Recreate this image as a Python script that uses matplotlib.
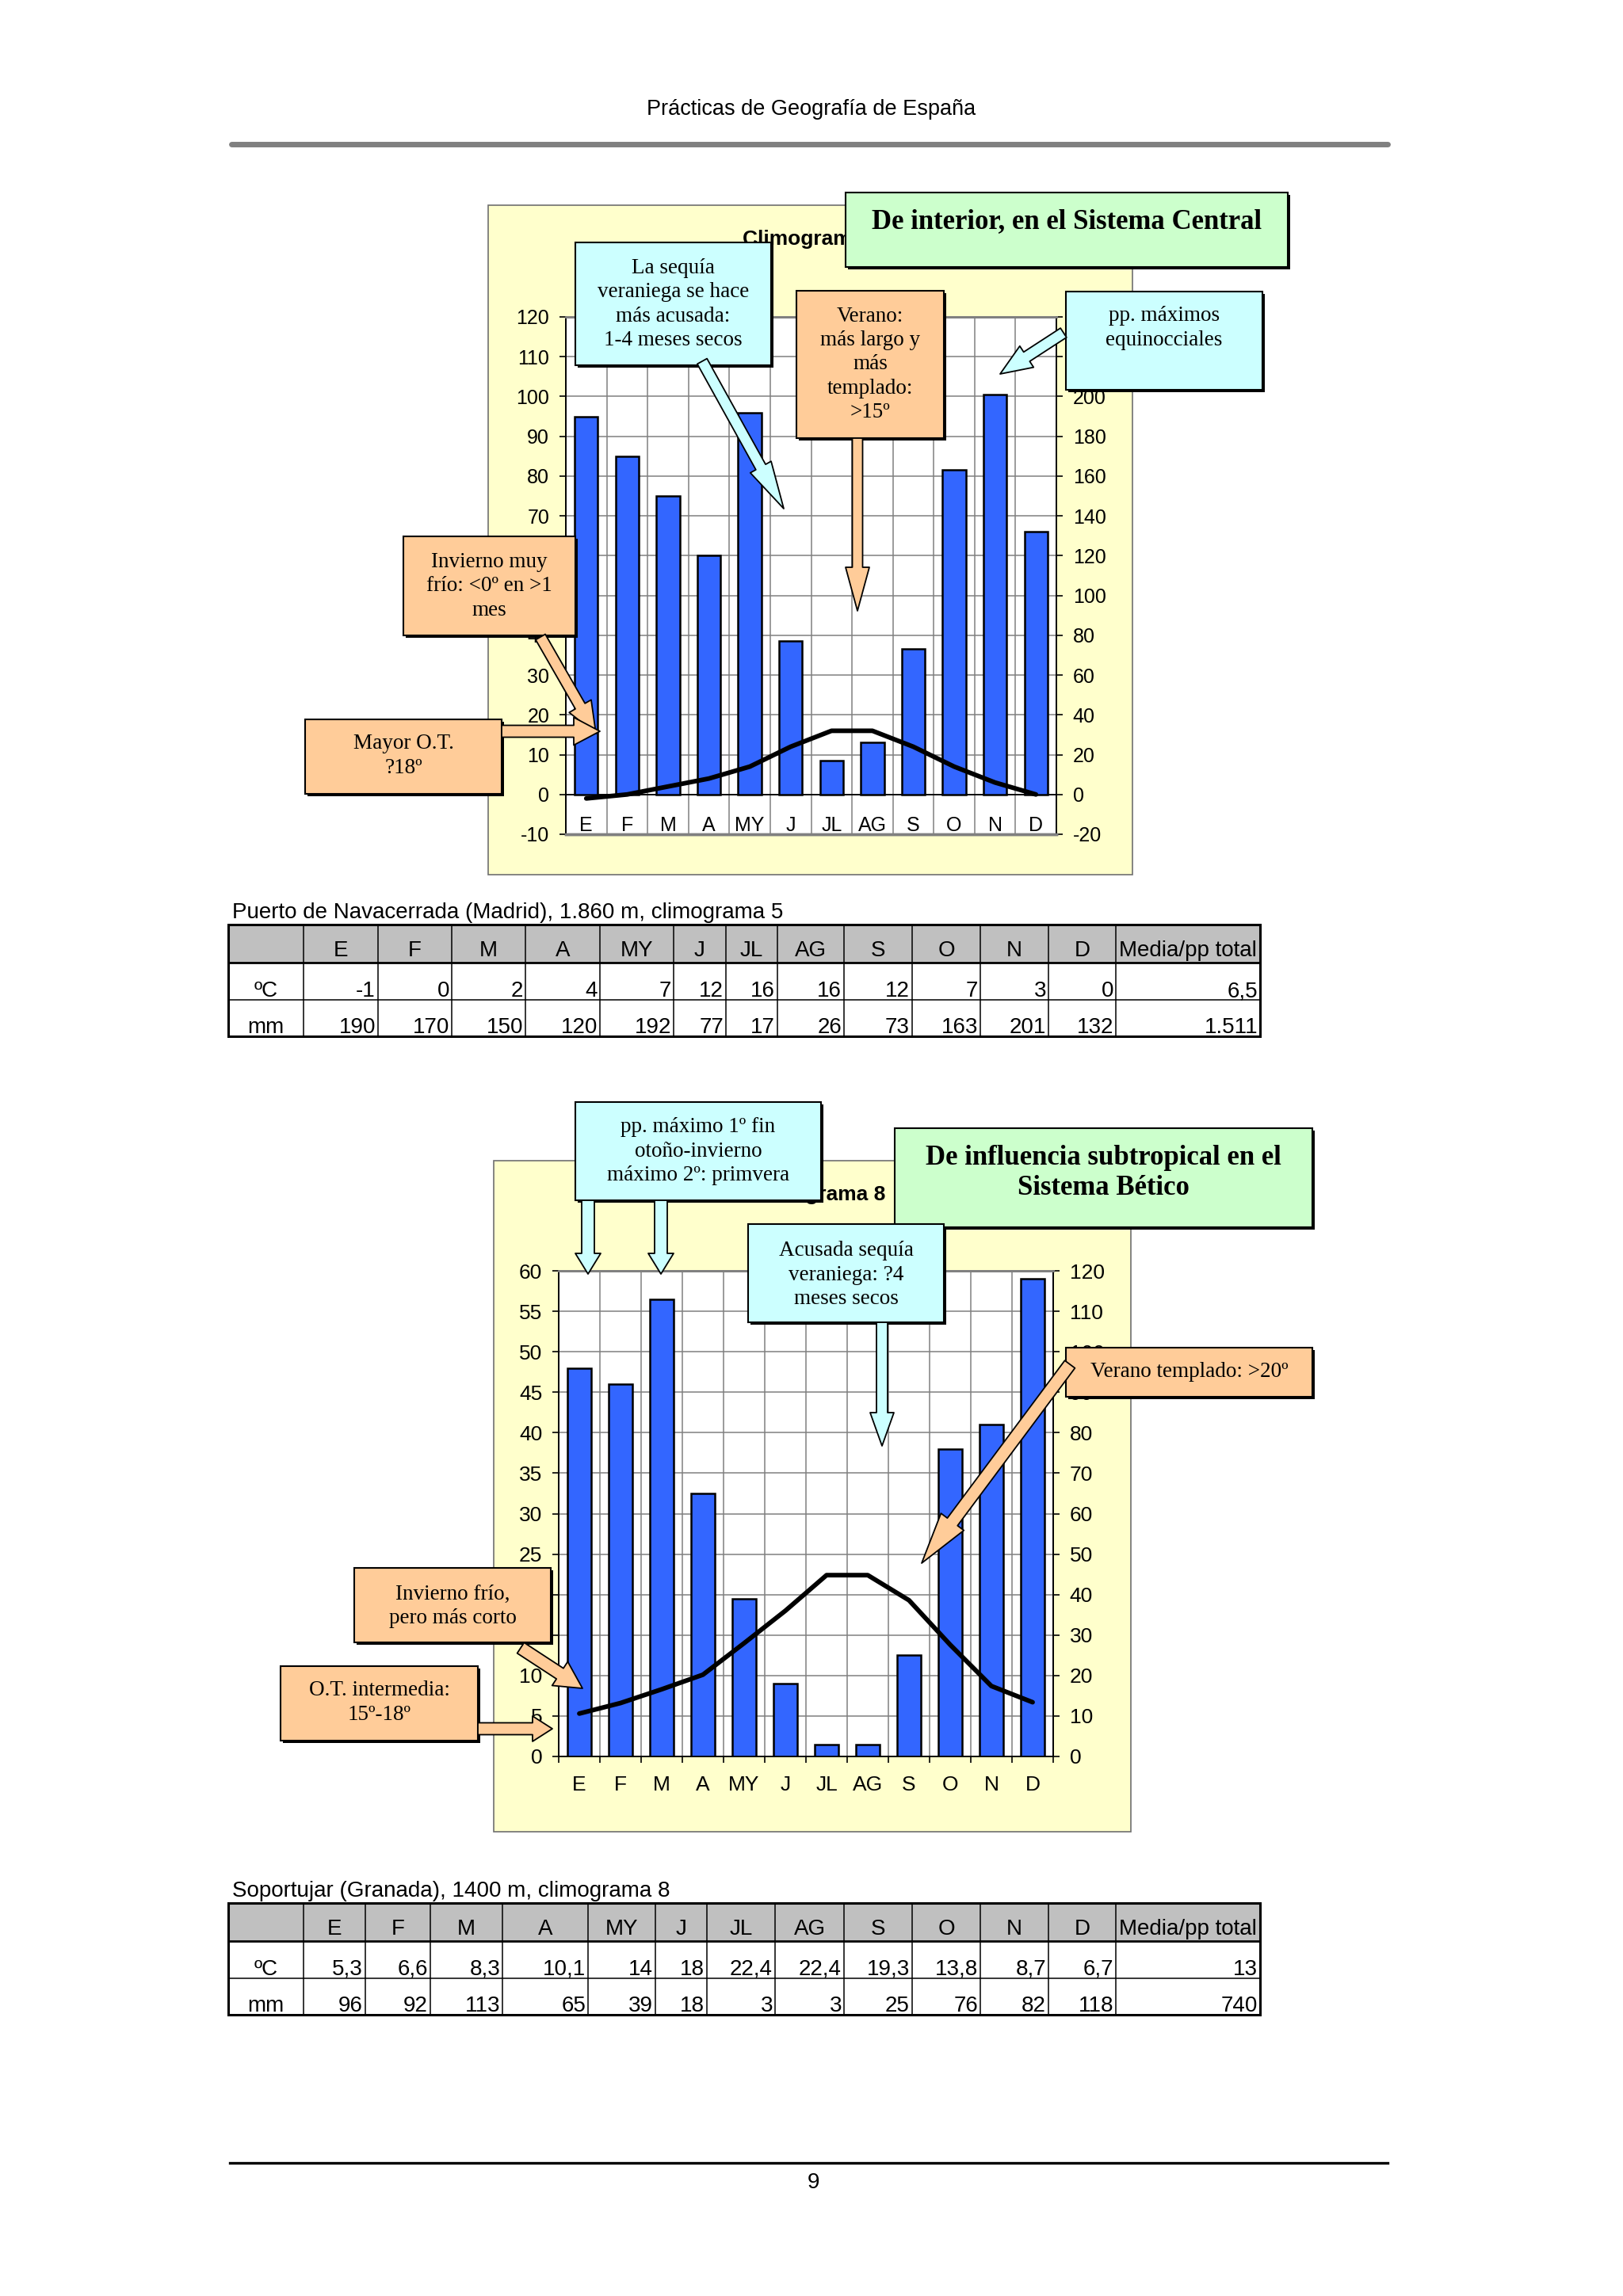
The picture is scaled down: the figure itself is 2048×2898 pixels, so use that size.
import numpy as np
import matplotlib.pyplot as plt
from matplotlib.patches import Rectangle, FancyArrowPatch, ArrowStyle

plt.rcParams['font.family'] = ['Liberation Sans', 'DejaVu Sans']
plt.rcParams['axes.unicode_minus'] = False

W, H = 2048, 2898

meses = ['E', 'F', 'M', 'A', 'MY', 'J', 'JL', 'AG', 'S', 'O', 'N', 'D']

# Puerto de Navacerrada (climograma 5)
temp_nav = [-1, 0, 2, 4, 7, 12, 16, 16, 12, 7, 3, 0]
pp_nav = [190, 170, 150, 120, 192, 77, 17, 26, 73, 163, 201, 132]
media_nav, total_nav = '6,5', '1.511'

# Soportujar (climograma 8)
temp_sop = [5.3, 6.6, 8.3, 10.1, 14, 18, 22.4, 22.4, 19.3, 13.8, 8.7, 6.7]
pp_sop = [96, 92, 113, 65, 39, 18, 3, 3, 25, 76, 82, 118]
media_sop, total_sop = '13', '740'

AMARILLO = '#FFFFCC'
NARANJA = '#FFCC99'
CIAN = '#CCFFFF'
VERDE = '#CCFFCC'
AZUL = '#3366FF'
SERIF = ['Liberation Serif', 'DejaVu Serif']

fig = plt.figure(figsize=(W / 100, H / 100), dpi=100)

# capas en pixeles: fondo (debajo de los graficos) y frente (cajas, flechas, tablas)
fondo = fig.add_axes([0, 0, 1, 1], zorder=-1)
frente = fig.add_axes([0, 0, 1, 1], zorder=5)
for a in (fondo, frente):
    a.set_xlim(0, W)
    a.set_ylim(H, 0)
    a.axis('off')


def climograma(marco, area, titulo, tx, ty, temp, pp, tlim, tstep, plim, pstep, fs, dentro):
    l, t, r, b = marco
    fondo.add_patch(Rectangle((l, t), r - l, b - t, fc=AMARILLO, ec='#707070', lw=1.2))
    fondo.text(tx, ty, titulo, ha='center', va='center', fontsize=19, weight='bold')

    l, t, r, b = area
    ax = fig.add_axes([l / W, 1 - b / H, (r - l) / W, (b - t) / H], zorder=2)
    ax2 = ax.twinx()
    ax2.set_zorder(1)
    ax.set_zorder(2)
    ax.patch.set_visible(False)
    ax2.patch.set_visible(True)
    ax2.patch.set_facecolor('white')

    x = np.arange(len(meses))
    ax.set_xlim(-0.5, 11.5)

    # precipitacion (eje derecho)
    ax2.set_axisbelow(True)
    ax2.bar(x, pp, width=0.57, color=AZUL, edgecolor='black', linewidth=1.8, zorder=3)
    ax2.set_ylim(plim)
    ax2.set_yticks(np.arange(plim[0], plim[1] + 1, pstep))
    ax2.yaxis.grid(True, color='#808080', lw=1.1)
    for xb in np.arange(-0.5, 12, 1):
        ax2.axvline(xb, color='#808080', lw=1.1, zorder=1)
    if plim[0] < 0:
        ax2.axhline(0, color='black', lw=1.3, zorder=2)

    # temperatura (eje izquierdo)
    ax.plot(x, temp, color='black', lw=4.2, zorder=4,
            solid_joinstyle='round', solid_capstyle='round')
    ax.set_ylim(tlim)
    ax.set_yticks(np.arange(tlim[0], tlim[1] + 1, tstep))

    for a in (ax, ax2):
        a.tick_params(axis='y', direction='out', length=6, width=1.2,
                      labelsize=fs, pad=9, colors='black')
        a.spines['left'].set_color('black')
        a.spines['right'].set_color('black')
        a.spines['top'].set_color('#808080')
        a.spines['top'].set_linewidth(2)
        for s in ('left', 'right'):
            a.spines[s].set_linewidth(1.2)

    ax.set_xticks(np.arange(-0.5, 12, 1))
    ax.set_xticklabels([])
    if dentro:
        ax.tick_params(axis='x', length=0)
        for a in (ax, ax2):
            a.spines['bottom'].set_color('#808080')
            a.spines['bottom'].set_linewidth(2.5)
        for i, m in enumerate(meses):
            ax.text(i, tlim[0] + 0.22 * tstep, m, ha='center', va='center', fontsize=fs)
    else:
        ax.tick_params(axis='x', which='major', direction='out', length=6, width=1.2)
        ax.set_xticks(x, minor=True)
        ax.set_xticklabels(meses, minor=True)
        ax.tick_params(axis='x', which='minor', length=0, pad=17, labelsize=fs)
        for a in (ax, ax2):
            a.spines['bottom'].set_color('black')
            a.spines['bottom'].set_linewidth(1.2)
    return ax, ax2


def caja(l, t, r, b, color, texto, ty, fs=19.5, bold=False, ls=1.27):
    frente.add_patch(Rectangle((l + 2.5, t + 2.5), r - l, b - t, fc='black', ec='none', zorder=2))
    frente.add_patch(Rectangle((l, t), r - l, b - t, fc=color, ec='black', lw=1.5, zorder=3))
    frente.text((l + r) / 2, ty, texto, ha='center', va='center', fontsize=fs,
                family=SERIF, weight='bold' if bold else 'normal',
                linespacing=ls, multialignment='center', zorder=5)


def flecha(x0, y0, x1, y1, cola, cabeza, largo, color):
    estilo = ArrowStyle('simple', head_length=largo * 0.72,
                        head_width=cabeza * 0.72, tail_width=cola * 0.72)
    frente.add_patch(FancyArrowPatch((x0, y0), (x1, y1), arrowstyle=estilo,
                                     mutation_scale=1, fc=color, ec='black', lw=1.3,
                                     shrinkA=0, shrinkB=0, zorder=4))


def fmt(v):
    return f'{v:g}'.replace('.', ',')


def tabla(titulo, ty, filas, cols, temp, pp, media, total):
    frente.text(293, ty, titulo, fontsize=20, ha='left', va='baseline')
    top, y1, y2, bot = filas
    x0, x1 = cols[0], cols[-1]
    frente.add_patch(Rectangle((x0, top), x1 - x0, y1 - top, fc='#C0C0C0', ec='none', zorder=1))
    for c in cols[1:-1]:
        frente.plot([c, c], [top, bot], color='black', lw=1.1, zorder=2)
    frente.plot([x0, x1], [y1, y1], color='black', lw=2, zorder=2)
    frente.plot([x0, x1], [y2, y2], color='black', lw=1.1, zorder=2)
    frente.add_patch(Rectangle((x0, top), x1 - x0, bot - top, fc='none', ec='black', lw=2.2, zorder=3))
    cab = meses + ['Media/pp total']
    for i, m in enumerate(cab):
        frente.text((cols[i + 1] + cols[i + 2]) / 2, y1 - 8, m, fontsize=20,
                    ha='center', va='baseline')
    frente.text((cols[0] + cols[1]) / 2, y2 - 4, 'ºC', fontsize=20, ha='center', va='baseline')
    frente.text((cols[0] + cols[1]) / 2, bot - 4, 'mm', fontsize=20, ha='center', va='baseline')
    fila_t = [fmt(v) for v in temp] + [media]
    fila_p = [fmt(v) for v in pp] + [total]
    for i in range(len(fila_t)):
        frente.text(cols[i + 2] - 3, y2 - 4, fila_t[i], fontsize=20, ha='right', va='baseline')
        frente.text(cols[i + 2] - 3, bot - 4, fila_p[i], fontsize=20, ha='right', va='baseline')


# cabecera y pie de pagina
fondo.text(1024, 138, 'Prácticas de Geografía de España', ha='center', va='center', fontsize=19.5)
fondo.plot([292, 1751], [182, 182], color='#808080', lw=5, solid_capstyle='round')
fondo.plot([290, 1751], [2730, 2730], color='black', lw=2.4)
fondo.text(1026, 2755, '9', ha='center', va='center', fontsize=20)

# ---- Climograma 5 ----
climograma((616, 259, 1429, 1104), (714, 400, 1333, 1053), 'Climograma 5', 1024, 302,
           temp_nav, pp_nav, (-10, 120), 10, (-20, 240), 20, 18, True)

caja(1067, 243, 1625, 337, VERDE, 'De interior, en el Sistema Central', 280, fs=25, bold=True)
caja(726, 306, 973, 461, CIAN, 'La sequía\nveraniega se hace\nmás acusada:\n1-4 meses secos', 384)
flecha(886, 456, 989, 642, 14, 30, 60, CIAN)
caja(1005, 367, 1191, 553, NARANJA, 'Verano:\nmás largo y\nmás\ntemplado:\n>15º', 460)
flecha(1082, 553, 1082, 771, 13, 30, 55, NARANJA)
caja(1345, 368, 1593, 492, CIAN, 'pp. máximos\nequinocciales', 414)
flecha(1342, 420, 1262, 472, 14, 32, 40, CIAN)
caja(509, 677, 726, 802, NARANJA, 'Invierno muy\nfrío: <0º en >1\nmes', 740)
flecha(682, 804, 752, 926, 14, 32, 40, NARANJA)
caja(385, 908, 633, 1002, NARANJA, 'Mayor O.T.\n?18º', 954)
flecha(633, 923, 757, 923, 15, 35, 33, NARANJA)

tabla('Puerto de Navacerrada (Madrid), 1.860 m, climograma 5', 1159,
      (1167, 1215, 1262, 1308),
      [288, 383, 477, 570, 663, 757, 850, 916, 981, 1065, 1151, 1237, 1323, 1408, 1590],
      temp_nav, pp_nav, media_nav, total_nav)

# ---- Climograma 8 ----
climograma((623, 1465, 1427, 2312), (705, 1604, 1329, 2217), 'Climograma 8', 1030, 1508,
           temp_sop, pp_sop, (0, 60), 5, (0, 120), 10, 19, False)

caja(726, 1391, 1036, 1515, CIAN, 'pp. máximo 1º fin\notoño-invierno\nmáximo 2º: primvera', 1453)
flecha(742, 1515, 742, 1608, 16, 32, 26, CIAN)
flecha(834, 1515, 834, 1608, 16, 32, 26, CIAN)
caja(1129, 1424, 1656, 1549, VERDE, 'De influencia subtropical en el\nSistema Bético', 1480,
     fs=25, bold=True, ls=1.2)
caja(944, 1545, 1191, 1669, CIAN, 'Acusada sequía\nveraniega: ?4\nmeses secos', 1609)
flecha(1113, 1669, 1113, 1825, 14, 30, 42, CIAN)
caja(1345, 1701, 1656, 1763, NARANJA, 'Verano templado: >20º', 1732)
flecha(1350, 1722, 1163, 1973, 16, 36, 65, NARANJA)
caja(447, 1979, 695, 2073, NARANJA, 'Invierno frío,\npero más corto', 2027)
flecha(657, 2080, 735, 2131, 16, 36, 34, NARANJA)
caja(354, 2103, 603, 2197, NARANJA, 'O.T. intermedia:\n15º-18º', 2149)
flecha(603, 2182, 697, 2182, 15, 32, 25, NARANJA)

tabla('Soportujar (Granada), 1400 m, climograma 8', 2394,
      (2402, 2450, 2497, 2543),
      [288, 383, 461, 543, 634, 742, 827, 892, 978, 1065, 1151, 1237, 1323, 1408, 1590],
      temp_sop, pp_sop, media_sop, total_sop)

fig.savefig('out.png', dpi=100, facecolor='white')
